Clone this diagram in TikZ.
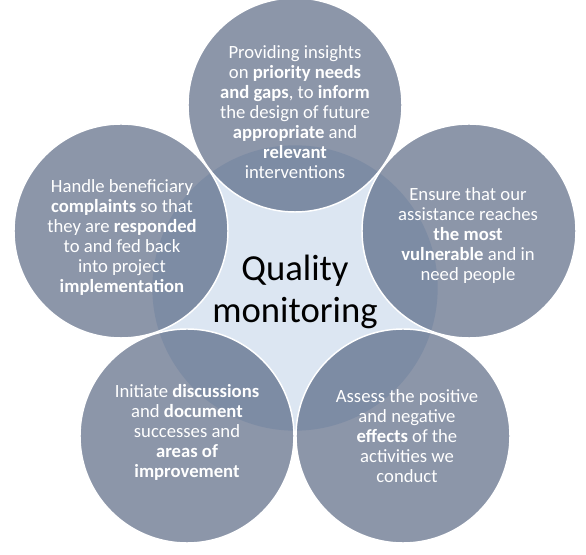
\documentclass[tikz,border=0pt]{standalone}
\usepackage{fontspec}
\setmainfont{Carlito}
\definecolor{hubfill}{HTML}{DCE6F2}
\definecolor{petal}{HTML}{3F5070}
\begin{document}
\begin{tikzpicture}[x=0.75pt,y=-0.75pt,
  hubbox/.style={circle, fill=hubfill, draw=none, minimum size=214pt, inner sep=0pt},
  petalbox/.style={circle, fill=petal, fill opacity=0.6, text opacity=1, draw=white, draw opacity=1,
     line width=1.1pt, minimum size=160.5pt, inner sep=0pt},
  petaltext/.style={text=white, align=center, font=\fontsize{14}{15}\selectfont},
  titletext/.style={text=black, align=center, font=\fontsize{27.5}{32}\selectfont}]
\useasboundingbox (0,0) rectangle (586,555);
\node[hubbox] (hub) at (295,288) {};
\node[petalbox] (top) at (295,105) {};
\node[petalbox] (right) at (469,231) {};
\node[petalbox] (left) at (121,231) {};
\node[petalbox] (bright) at (403,436) {};
\node[petalbox] (bleft) at (187,436) {};
\node[petaltext] (ttop) at (295,112) {Providing insights\\ on \textbf{priority needs}\\ \textbf{and gaps}, to \textbf{inform}\\ the design of future\\ \textbf{appropriate} and\\ \textbf{relevant}\\ interventions};
\node[petaltext] (tright) at (468,236) {Ensure that our\\ assistance reaches\\ \textbf{the most}\\ \textbf{vulnerable} and in\\ need people};
\node[petaltext] (tleft) at (122,237) {Handle beneficiary\\ \textbf{complaints} so that\\ they are \textbf{responded}\\ to and fed back\\ into project\\ \textbf{implementation}};
\node[petaltext] (tbleft) at (187,432) {Initiate \textbf{discussions}\\ and \textbf{document}\\ successes and\\ \textbf{areas of}\\ \textbf{improvement}};
\node[petaltext] (tbright) at (407,436) {Assess the positive\\ and negative\\ \textbf{effects} of the\\ activities we\\ conduct};
\node[titletext] (title) at (295,292) {Quality\\ monitoring};
\end{tikzpicture}
\end{document}
